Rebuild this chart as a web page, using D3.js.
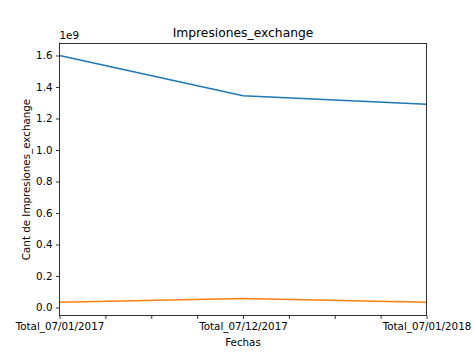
<!DOCTYPE html>
<html><head><meta charset="utf-8">
<script src="https://cdn.jsdelivr.net/npm/d3@7"></script>
<style>body{margin:0;background:#fff}svg{display:block}text{font-family:"DejaVu Sans",sans-serif;fill:#000}</style>
</head><body>
<svg id="c" width="474" height="355"></svg>
<script>
const categories = ["Total_07/01/2017", "Total_07/12/2017", "Total_07/01/2018"];
const seriesBlue = [1.600e9, 1.345e9, 1.290e9];
const seriesOrange = [0.034e9, 0.057e9, 0.034e9];
const yTicks = [0.0, 0.2, 0.4, 0.6, 0.8, 1.0, 1.2, 1.4, 1.6];
const xMinorTicks = [0, 0.25, 0.5, 0.75, 1, 1.25, 1.5, 1.75, 2];

const svg = d3.select("#c");
const L = 59.5, R = 426.5, T = 43.5, B = 315.5;
const x = d3.scaleLinear().domain([0, 2]).range([L, R]);
const y = d3.scaleLinear().domain([-0.0506e9, 1.676e9]).range([B, T]);

const g = svg.append("g");
const line = d3.line().x((d, i) => x(i)).y(d => y(d));
g.append("path").datum(seriesBlue).attr("d", line).attr("fill", "none").attr("stroke", "#1f77b4").attr("stroke-width", 1.5);
g.append("path").datum(seriesOrange).attr("d", line).attr("fill", "none").attr("stroke", "#ff7f0e").attr("stroke-width", 1.5);

// frame
g.append("rect").attr("x", L).attr("y", T).attr("width", R - L).attr("height", B - T)
  .attr("fill", "none").attr("stroke", "#000").attr("stroke-width", 0.8);

// y axis
const yAxis = d3.axisLeft(y).tickValues(yTicks.map(v => v * 1e9)).tickSize(3.5).tickPadding(3.5)
  .tickFormat(d => (d / 1e9).toFixed(1));
const ya = svg.append("g").attr("transform", `translate(${L},0)`).call(yAxis);
ya.select(".domain").remove();
ya.selectAll("line").attr("stroke", "#000").attr("stroke-width", 0.8);
ya.selectAll("text").attr("font-size", "10.3px").attr("font-family", "DejaVu Sans").attr("fill", "#000");

// x axis
const xAxis = d3.axisBottom(x).tickValues(xMinorTicks).tickSize(3.5).tickPadding(3.5)
  .tickFormat(d => Number.isInteger(d) ? categories[d] : "");
const xa = svg.append("g").attr("transform", `translate(0,${B})`).call(xAxis);
xa.select(".domain").remove();
xa.selectAll("line").attr("stroke", "#000").attr("stroke-width", 0.8);
xa.selectAll("text").attr("font-size", "10.3px").attr("font-family", "DejaVu Sans").attr("fill", "#000");

// offset text
svg.append("text").attr("x", L).attr("y", 39).attr("font-size", "10.3px").text("1e9");

// title
svg.append("text").attr("x", (L + R) / 2).attr("y", 36.5).attr("text-anchor", "middle")
  .attr("font-size", "12.3px").text("Impresiones_exchange");

// x label
svg.append("text").attr("x", (L + R) / 2).attr("y", 346).attr("text-anchor", "middle")
  .attr("font-size", "10.3px").text("Fechas");

// y label
svg.append("text").attr("transform", `translate(30,${(T + B) / 2}) rotate(-90)`).attr("text-anchor", "middle")
  .attr("font-size", "10.3px").text("Cant de Impresiones_exchange");
</script>
</body></html>
